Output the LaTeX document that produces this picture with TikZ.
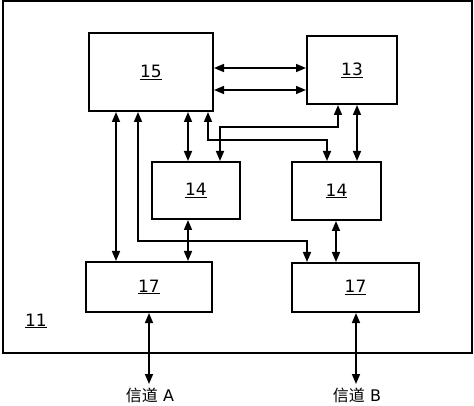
\documentclass[tikz,border=0pt]{standalone}
\usepackage{fontspec}
\setmainfont{DejaVu Sans}
\newfontfamily\cjk{Noto Sans CJK SC}
\usetikzlibrary{arrows.meta}

\begin{document}
\begin{tikzpicture}
                [x=1pt, y=-1pt,
                 unit/.style = {draw, line width=2pt, inner sep=0pt, font=\fontsize{17}{19}\selectfont},
                 link/.style = {line width=1.5pt, {Triangle[length=10pt,width=8pt]}-{Triangle[length=10pt,width=8pt]}}]
                \useasboundingbox (0,0) rectangle (474,406);
                % Frame of device
                \draw[line width=2.4pt] (3,1) rectangle (472,353);
                \node[font=\fontsize{17}{19}\selectfont] (l11) at (36,321) {\underline{11}};
                % Units
                \node[unit, minimum width=124, minimum height=78] (u15) at (151,72) {\underline{15}};
                \node[unit, minimum width=90, minimum height=68] (u13) at (352,70) {\underline{13}};
                \node[unit, minimum width=88, minimum height=57] (u14a) at (196,190.5) {\underline{14}};
                \node[unit, minimum width=89, minimum height=58] (u14b) at (336.5,191) {\underline{14}};
                \node[unit, minimum width=126, minimum height=50] (u17a) at (149,287) {\underline{17}};
                \node[unit, minimum width=127, minimum height=49] (u17b) at (355.5,287.5) {\underline{17}};
                % Channels
                \node[font=\fontsize{16}{18}\selectfont] (chA) at (150,395) {{\cjk 信道} A};
                \node[font=\fontsize{16}{18}\selectfont] (chB) at (357,395) {{\cjk 信道} B};
                \coordinate (endA) at (149,384);
                \coordinate (endB) at (356,384);
                % Columns of the links
                \coordinate (xa) at (116,0);
                \coordinate (xb) at (138,0);
                \coordinate (xc) at (188,0);
                \coordinate (xd) at (208,0);
                \coordinate (xe) at (220,0);
                \coordinate (xf) at (307,0);
                \coordinate (xg) at (327,0);
                \coordinate (xh) at (336,0);
                \coordinate (xi) at (338,0);
                \coordinate (xj) at (357,0);
                % Links
                \draw[link] (u15.east |- 0,68) -- (u13.west |- 0,68);
                \draw[link] (u15.east |- 0,90) -- (u13.west |- 0,90);
                \draw[link] (u15.south -| xa) -- (u17a.north -| xa);
                \draw[link] (u15.south -| xb) |- (0,241 -| xf) -- (u17b.north -| xf);
                \draw[link] (u15.south -| xc) -- (u14a.north -| xc);
                \draw[link] (u14a.south -| xc) -- (u17a.north -| xc);
                \draw[link] (u15.south -| xd) |- (0,140 -| xg) -- (u14b.north -| xg);
                \draw[link] (u13.south -| xi) |- (0,127 -| xe) -- (u14a.north -| xe);
                \draw[link] (u13.south -| xj) -- (u14b.north -| xj);
                \draw[link] (u14b.south -| xh) -- (u17b.north -| xh);
                \draw[link] (u17a.south -| endA) -- (endA);
                \draw[link] (u17b.south -| endB) -- (endB);
\end{tikzpicture}
\end{document}
